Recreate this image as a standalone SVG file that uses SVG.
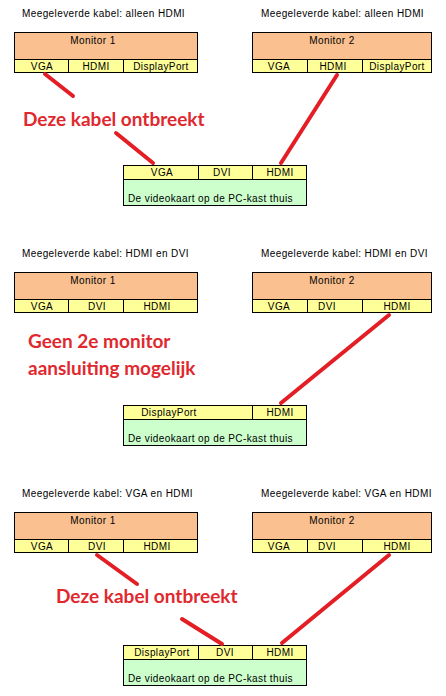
<svg xmlns="http://www.w3.org/2000/svg" width="446" height="696" viewBox="0 0 446 696">
<style>
.t{font-family:"Liberation Sans",Arial,sans-serif;font-size:10px;fill:#000;letter-spacing:0.4px}
.c{text-anchor:middle}
.big{font-family:Lato,"Open Sans",sans-serif;font-weight:700;font-size:19px;fill:#e0282e}
.mon{fill:#fac090;stroke:#000;stroke-width:1}
.port{fill:#ffff99;stroke:#000;stroke-width:1}
.pc{fill:#ccffcc;stroke:#000;stroke-width:1}
.cable{stroke:#e31e25;stroke-width:4;stroke-linecap:round;fill:none}
</style>
<rect width="446" height="696" fill="#fff"/>

<!-- Section 1 -->
<g id="cap1a"><text class="t" x="22" y="17">Meegeleverde kabel: alleen HDMI</text></g>
<g id="cap1b"><text class="t" x="261" y="17">Meegeleverde kabel: alleen HDMI</text></g>
<g id="mon1a">
<rect class="mon" x="14.5" y="32.5" width="183" height="27"/>
<rect class="port" x="14.5" y="59.5" width="183" height="13"/>
<line x1="68.5" y1="59.5" x2="68.5" y2="72.5" stroke="#000"/>
<line x1="123.5" y1="59.5" x2="123.5" y2="72.5" stroke="#000"/>
<text class="t c" x="93" y="44">Monitor 1</text>
<text class="t c" x="42" y="69.5">VGA</text>
<text class="t c" x="96" y="69.5">HDMI</text>
<text class="t c" x="161" y="69.5">DisplayPort</text>
</g>
<g id="mon1b">
<rect class="mon" x="252.5" y="32.5" width="179" height="27"/>
<rect class="port" x="252.5" y="59.5" width="179" height="13"/>
<line x1="307.5" y1="59.5" x2="307.5" y2="72.5" stroke="#000"/>
<line x1="362.5" y1="59.5" x2="362.5" y2="72.5" stroke="#000"/>
<text class="t c" x="332" y="44">Monitor 2</text>
<text class="t c" x="279" y="69.5">VGA</text>
<text class="t c" x="333" y="69.5">HDMI</text>
<text class="t c" x="397" y="69.5">DisplayPort</text>
</g>
<g id="note1"><text class="big" x="23" y="126">Deze kabel ontbreekt</text></g>
<g id="pc1">
<rect class="pc" x="123.5" y="165.5" width="183" height="40"/>
<rect class="port" x="123.5" y="165.5" width="183" height="14"/>
<line x1="198.5" y1="165.5" x2="198.5" y2="179.5" stroke="#000"/>
<line x1="252.5" y1="165.5" x2="252.5" y2="179.5" stroke="#000"/>
<text class="t c" x="162" y="176">VGA</text>
<text class="t c" x="222" y="176">DVI</text>
<text class="t c" x="280" y="176">HDMI</text>
<text class="t" x="128" y="202">De videokaart op de PC-kast thuis</text>
</g>

<!-- Section 2 -->
<g id="cap2a"><text class="t" x="22" y="257">Meegeleverde kabel: HDMI en DVI</text></g>
<g id="cap2b"><text class="t" x="261" y="257">Meegeleverde kabel: HDMI en DVI</text></g>
<g id="mon2a">
<rect class="mon" x="14.5" y="272.5" width="183" height="27"/>
<rect class="port" x="14.5" y="299.5" width="183" height="13"/>
<line x1="68.5" y1="299.5" x2="68.5" y2="312.5" stroke="#000"/>
<line x1="123.5" y1="299.5" x2="123.5" y2="312.5" stroke="#000"/>
<text class="t c" x="93" y="284">Monitor 1</text>
<text class="t c" x="42" y="309.5">VGA</text>
<text class="t c" x="97" y="309.5">DVI</text>
<text class="t c" x="157" y="309.5">HDMI</text>
</g>
<g id="mon2b">
<rect class="mon" x="252.5" y="272.5" width="179" height="27"/>
<rect class="port" x="252.5" y="299.5" width="179" height="13"/>
<line x1="307.5" y1="299.5" x2="307.5" y2="312.5" stroke="#000"/>
<line x1="362.5" y1="299.5" x2="362.5" y2="312.5" stroke="#000"/>
<text class="t c" x="332" y="284">Monitor 2</text>
<text class="t c" x="279" y="309.5">VGA</text>
<text class="t c" x="327" y="309.5">DVI</text>
<text class="t c" x="397" y="309.5">HDMI</text>
</g>
<g id="note2">
<text class="big" x="28" y="348">Geen 2e monitor</text>
<text class="big" x="28" y="375">aansluiting mogelijk</text>
</g>
<g id="pc2">
<rect class="pc" x="123.5" y="405.5" width="183" height="40"/>
<rect class="port" x="123.5" y="405.5" width="183" height="14"/>
<line x1="252.5" y1="405.5" x2="252.5" y2="419.5" stroke="#000"/>
<text class="t c" x="169" y="416">DisplayPort</text>
<text class="t c" x="280" y="416">HDMI</text>
<text class="t" x="128" y="442">De videokaart op de PC-kast thuis</text>
</g>

<!-- Section 3 -->
<g id="cap3a"><text class="t" x="22" y="497">Meegeleverde kabel: VGA en HDMI</text></g>
<g id="cap3b"><text class="t" x="261" y="497">Meegeleverde kabel: VGA en HDMI</text></g>
<g id="mon3a">
<rect class="mon" x="14.5" y="512.5" width="183" height="27"/>
<rect class="port" x="14.5" y="539.5" width="183" height="13"/>
<line x1="68.5" y1="539.5" x2="68.5" y2="552.5" stroke="#000"/>
<line x1="123.5" y1="539.5" x2="123.5" y2="552.5" stroke="#000"/>
<text class="t c" x="93" y="524">Monitor 1</text>
<text class="t c" x="42" y="549.5">VGA</text>
<text class="t c" x="97" y="549.5">DVI</text>
<text class="t c" x="157" y="549.5">HDMI</text>
</g>
<g id="mon3b">
<rect class="mon" x="252.5" y="512.5" width="179" height="27"/>
<rect class="port" x="252.5" y="539.5" width="179" height="13"/>
<line x1="307.5" y1="539.5" x2="307.5" y2="552.5" stroke="#000"/>
<line x1="362.5" y1="539.5" x2="362.5" y2="552.5" stroke="#000"/>
<text class="t c" x="332" y="524">Monitor 2</text>
<text class="t c" x="279" y="549.5">VGA</text>
<text class="t c" x="327" y="549.5">DVI</text>
<text class="t c" x="397" y="549.5">HDMI</text>
</g>
<g id="note3"><text class="big" x="56" y="603">Deze kabel ontbreekt</text></g>
<g id="pc3">
<rect class="pc" x="123.5" y="645.5" width="183" height="40"/>
<rect class="port" x="123.5" y="645.5" width="183" height="14"/>
<line x1="198.5" y1="645.5" x2="198.5" y2="659.5" stroke="#000"/>
<line x1="252.5" y1="645.5" x2="252.5" y2="659.5" stroke="#000"/>
<text class="t c" x="162" y="656">DisplayPort</text>
<text class="t c" x="225" y="656">DVI</text>
<text class="t c" x="280" y="656">HDMI</text>
<text class="t" x="128" y="682">De videokaart op de PC-kast thuis</text>
</g>

<g id="connectors">
<line class="cable" x1="45" y1="74" x2="73" y2="96"/>
<line class="cable" x1="337" y1="75" x2="281" y2="163"/>
<line class="cable" x1="116" y1="133" x2="153" y2="163"/>
<line class="cable" x1="389" y1="315" x2="281" y2="403"/>
<line class="cable" x1="97" y1="555" x2="137" y2="584"/>
<line class="cable" x1="182" y1="619" x2="222" y2="644"/>
<line class="cable" x1="389" y1="555" x2="282" y2="643"/>
</g>
</svg>
